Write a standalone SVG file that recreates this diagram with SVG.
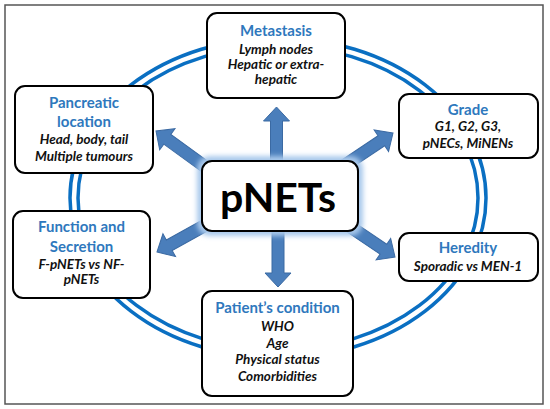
<svg xmlns="http://www.w3.org/2000/svg" xmlns:xlink="http://www.w3.org/1999/xlink" width="550" height="409" viewBox="0 0 550 409">
  <style>
    .box { fill: #ffffff; stroke: #000000; stroke-width: 2; }
    .ring { fill: none; stroke: #0a6fc2; stroke-width: 3.5; }
    .title { font-family: Lato, "Open Sans", sans-serif; font-weight: bold; font-size: 15px; fill: #2e78bd; text-anchor: middle; }
    .body { font-family: Lato, "Open Sans", sans-serif; font-weight: bold; font-style: italic; font-size: 13.5px; fill: #111111; text-anchor: middle; }
    .big { font-family: Lato, "Open Sans", sans-serif; font-weight: bold; font-size: 41px; fill: #000000; text-anchor: middle; }
    .arrow { fill: #4a7ebb; stroke: #3b6aa3; stroke-width: 1; }
  </style>
  <defs>
    <path id="arr" d="M0,0 L-14,-13 L-14,-6 L-65,-6 L-65,6 L-14,6 L-14,13 Z"/>
    <filter id="glow" x="-20%" y="-30%" width="140%" height="160%">
      <feGaussianBlur stdDeviation="2.5"/>
    </filter>
  </defs>
  <rect x="0" y="0" width="550" height="409" fill="#ffffff"/>
  <rect x="5" y="5" width="538" height="399" fill="none" stroke="#555555" stroke-width="1.5"/>

  <g id="ring">
    <ellipse class="ring" cx="278" cy="198" rx="208" ry="160"/>
    <ellipse class="ring" cx="278" cy="198" rx="200" ry="152"/>
  </g>

  <g id="connectors">
    <use xlink:href="#arr" class="arrow" transform="translate(276.5,107) rotate(-90)"/>
    <use xlink:href="#arr" class="arrow" transform="translate(156,131) rotate(216)"/>
    <use xlink:href="#arr" class="arrow" transform="translate(393,133) rotate(-33.7)"/>
    <use xlink:href="#arr" class="arrow" transform="translate(157,252) rotate(151)"/>
    <use xlink:href="#arr" class="arrow" transform="translate(395,257) rotate(34)"/>
    <use xlink:href="#arr" class="arrow" transform="translate(278,287) rotate(90)"/>
  </g>

  <g id="center">
    <rect x="197" y="156" width="166" height="80" rx="13" fill="#a9c9ec" filter="url(#glow)"/>
    <rect class="box" x="202" y="161" width="156" height="70" rx="10"/>
    <text class="big" x="278" y="212">pNETs</text>
  </g>

  <g id="metastasis">
    <rect class="box" x="207" y="13" width="138" height="85" rx="10"/>
    <text class="title" x="276" y="36">Metastasis</text>
    <text class="body" x="276" y="54">Lymph nodes</text>
    <text class="body" x="276" y="69">Hepatic or extra-</text>
    <text class="body" x="276" y="84">hepatic</text>
  </g>

  <g id="pancreatic">
    <rect class="box" x="15" y="86" width="138" height="87" rx="10"/>
    <text class="title" x="84" y="108">Pancreatic</text>
    <text class="title" x="84" y="127">location</text>
    <text class="body" x="84" y="144">Head, body, tail</text>
    <text class="body" x="84" y="161">Multiple tumours</text>
  </g>

  <g id="grade">
    <rect class="box" x="399" y="94" width="139" height="64" rx="10"/>
    <text class="title" x="468" y="115">Grade</text>
    <text class="body" x="468" y="131">G1, G2, G3,</text>
    <text class="body" x="468" y="148">pNECs, MiNENs</text>
  </g>

  <g id="function">
    <rect class="box" x="13" y="211" width="137" height="87" rx="10"/>
    <text class="title" x="81.5" y="232">Function and</text>
    <text class="title" x="81.5" y="252">Secretion</text>
    <text class="body" x="81.5" y="269">F-pNETs vs NF-</text>
    <text class="body" x="81.5" y="284">pNETs</text>
  </g>

  <g id="heredity">
    <rect class="box" x="399" y="233" width="139" height="48" rx="10"/>
    <text class="title" x="468" y="253">Heredity</text>
    <text class="body" x="468" y="271">Sporadic vs MEN-1</text>
  </g>

  <g id="patient">
    <rect class="box" x="202" y="291" width="151" height="105" rx="10"/>
    <text class="title" x="277.5" y="313">Patient’s condition</text>
    <text class="body" x="277.5" y="331">WHO</text>
    <text class="body" x="277.5" y="348">Age</text>
    <text class="body" x="277.5" y="364">Physical status</text>
    <text class="body" x="277.5" y="381">Comorbidities</text>
  </g>
</svg>
